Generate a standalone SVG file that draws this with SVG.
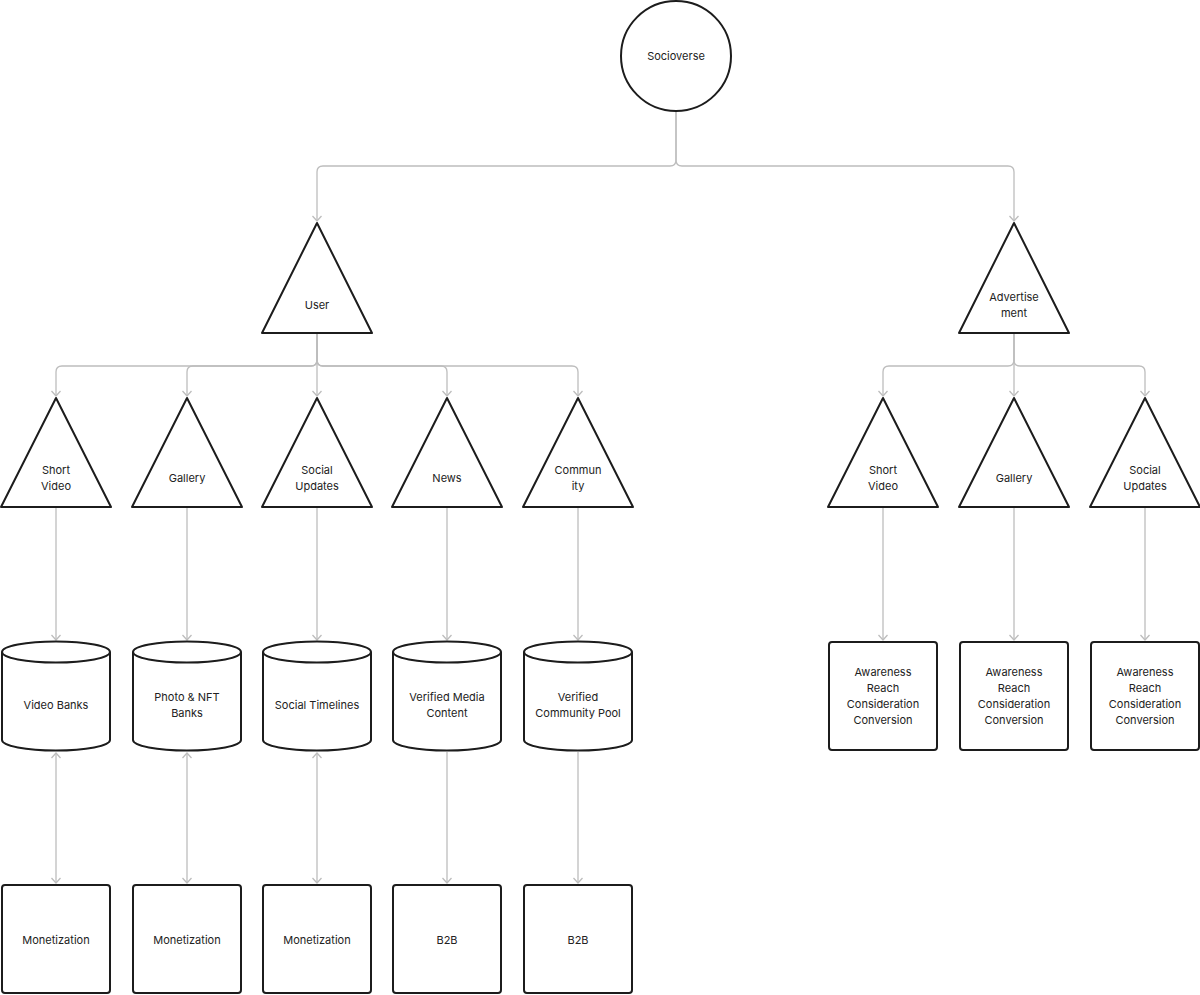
<svg xmlns="http://www.w3.org/2000/svg" width="1200" height="995" viewBox="0 0 1200 995">
<style>
.n{fill:#fff;stroke:#1c1c1c;stroke-width:2;stroke-linejoin:round}
.t{font-family:Inter,"Liberation Sans",sans-serif;font-size:11px;fill:#222;text-anchor:middle}
.c{fill:none;stroke:#bdbdbd;stroke-width:1.3}
</style>
<defs>
<marker id="ah" markerUnits="userSpaceOnUse" markerWidth="12" markerHeight="12" refX="6" refY="6" orient="auto">
<path d="M1,1.5 L6,6 L1,10.5" fill="none" stroke="#bdbdbd" stroke-width="1.3"/>
</marker>
<marker id="as" markerUnits="userSpaceOnUse" markerWidth="12" markerHeight="12" refX="6" refY="6" orient="auto-start-reverse">
<path d="M1,1.5 L6,6 L1,10.5" fill="none" stroke="#bdbdbd" stroke-width="1.3"/>
</marker>
</defs>
<g id="connectors">
<path class="c" d="M676,111 V160 Q676,166 670,166 H323 Q317,166 317,172 V221" marker-end="url(#ah)"/>
<path class="c" d="M676,111 V160 Q676,166 682,166 H1008 Q1014,166 1014,172 V221" marker-end="url(#ah)"/>
<path class="c" d="M317,334 V360 Q317,366 311,366 H62 Q56,366 56,372 V396" marker-end="url(#ah)"/>
<path class="c" d="M317,334 V360 Q317,366 311,366 H193 Q187,366 187,372 V396" marker-end="url(#ah)"/>
<path class="c" d="M317,334 V396" marker-end="url(#ah)"/>
<path class="c" d="M317,334 V360 Q317,366 323,366 H441 Q447,366 447,372 V396" marker-end="url(#ah)"/>
<path class="c" d="M317,334 V360 Q317,366 323,366 H572 Q578,366 578,372 V396" marker-end="url(#ah)"/>
<path class="c" d="M1014,334 V360 Q1014,366 1008,366 H889 Q883,366 883,372 V396" marker-end="url(#ah)"/>
<path class="c" d="M1014,334 V396" marker-end="url(#ah)"/>
<path class="c" d="M1014,334 V360 Q1014,366 1020,366 H1139 Q1145,366 1145,372 V396" marker-end="url(#ah)"/>
<path class="c" d="M56,508 V640" marker-end="url(#ah)"/>
<path class="c" d="M187,508 V640" marker-end="url(#ah)"/>
<path class="c" d="M317,508 V640" marker-end="url(#ah)"/>
<path class="c" d="M447,508 V640" marker-end="url(#ah)"/>
<path class="c" d="M578,508 V640" marker-end="url(#ah)"/>
<path class="c" d="M883,508 V640" marker-end="url(#ah)"/>
<path class="c" d="M1014,508 V640" marker-end="url(#ah)"/>
<path class="c" d="M1145,508 V640" marker-end="url(#ah)"/>
<path class="c" d="M56,753 V883" marker-start="url(#as)" marker-end="url(#ah)"/>
<path class="c" d="M187,753 V883" marker-start="url(#as)" marker-end="url(#ah)"/>
<path class="c" d="M317,753 V883" marker-start="url(#as)" marker-end="url(#ah)"/>
<path class="c" d="M447,752 V883" marker-end="url(#ah)"/>
<path class="c" d="M578,752 V883" marker-end="url(#ah)"/>
</g>
<g id="socioverse"><circle class="n" cx="676" cy="56" r="55"/><text class="t" x="676" y="60">Socioverse</text></g>
<g id="user"><path class="n" d="M317,223 L372,333 L262,333 Z"/><text class="t" x="317" y="309">User</text></g>
<g id="advertisement"><path class="n" d="M1014,223 L1069,333 L959,333 Z"/><text class="t" x="1014" y="301">Advertise</text><text class="t" x="1014" y="317">ment</text></g>
<g id="u-short-video"><path class="n" d="M56,398 L111,507 L1,507 Z"/><text class="t" x="56" y="474">Short</text><text class="t" x="56" y="490">Video</text></g>
<g id="u-gallery"><path class="n" d="M187,398 L242,507 L132,507 Z"/><text class="t" x="187" y="482">Gallery</text></g>
<g id="u-social-updates"><path class="n" d="M317,398 L372,507 L262,507 Z"/><text class="t" x="317" y="474">Social</text><text class="t" x="317" y="490">Updates</text></g>
<g id="u-news"><path class="n" d="M447,398 L502,507 L392,507 Z"/><text class="t" x="447" y="482">News</text></g>
<g id="u-community"><path class="n" d="M578,398 L633,507 L523,507 Z"/><text class="t" x="578" y="474">Commun</text><text class="t" x="578" y="490">ity</text></g>
<g id="a-short-video"><path class="n" d="M883,398 L938,507 L828,507 Z"/><text class="t" x="883" y="474">Short</text><text class="t" x="883" y="490">Video</text></g>
<g id="a-gallery"><path class="n" d="M1014,398 L1069,507 L959,507 Z"/><text class="t" x="1014" y="482">Gallery</text></g>
<g id="a-social-updates"><path class="n" d="M1145,398 L1200,507 L1090,507 Z"/><text class="t" x="1145" y="474">Social</text><text class="t" x="1145" y="490">Updates</text></g>
<g id="video-banks"><path class="n" d="M2,652 A54,10.5 0 0 1 110,652 V740 A54,10.5 0 0 1 2,740 Z"/><path class="n" fill="none" d="M2,652 A54,10.5 0 0 0 110,652"/><text class="t" x="56" y="709">Video Banks</text></g>
<g id="photo-nft-banks"><path class="n" d="M133,652 A54,10.5 0 0 1 241,652 V740 A54,10.5 0 0 1 133,740 Z"/><path class="n" fill="none" d="M133,652 A54,10.5 0 0 0 241,652"/><text class="t" x="187" y="701">Photo &amp; NFT</text><text class="t" x="187" y="717">Banks</text></g>
<g id="social-timelines"><path class="n" d="M263,652 A54,10.5 0 0 1 371,652 V740 A54,10.5 0 0 1 263,740 Z"/><path class="n" fill="none" d="M263,652 A54,10.5 0 0 0 371,652"/><text class="t" x="317" y="709">Social Timelines</text></g>
<g id="verified-media"><path class="n" d="M393,652 A54,10.5 0 0 1 501,652 V740 A54,10.5 0 0 1 393,740 Z"/><path class="n" fill="none" d="M393,652 A54,10.5 0 0 0 501,652"/><text class="t" x="447" y="701">Verified Media</text><text class="t" x="447" y="717">Content</text></g>
<g id="verified-community"><path class="n" d="M524,652 A54,10.5 0 0 1 632,652 V740 A54,10.5 0 0 1 524,740 Z"/><path class="n" fill="none" d="M524,652 A54,10.5 0 0 0 632,652"/><text class="t" x="578" y="701">Verified</text><text class="t" x="578" y="717">Community Pool</text></g>
<g id="monetization-1"><rect class="n" x="2" y="885" width="108" height="108" rx="3"/><text class="t" x="56" y="944">Monetization</text></g>
<g id="monetization-2"><rect class="n" x="133" y="885" width="108" height="108" rx="3"/><text class="t" x="187" y="944">Monetization</text></g>
<g id="monetization-3"><rect class="n" x="263" y="885" width="108" height="108" rx="3"/><text class="t" x="317" y="944">Monetization</text></g>
<g id="b2b-1"><rect class="n" x="393" y="885" width="108" height="108" rx="3"/><text class="t" x="447" y="944">B2B</text></g>
<g id="b2b-2"><rect class="n" x="524" y="885" width="108" height="108" rx="3"/><text class="t" x="578" y="944">B2B</text></g>
<g id="funnel-1"><rect class="n" x="829" y="642" width="108" height="108" rx="3"/><text class="t" x="883" y="676">Awareness</text><text class="t" x="883" y="692">Reach</text><text class="t" x="883" y="708">Consideration</text><text class="t" x="883" y="724">Conversion</text></g>
<g id="funnel-2"><rect class="n" x="960" y="642" width="108" height="108" rx="3"/><text class="t" x="1014" y="676">Awareness</text><text class="t" x="1014" y="692">Reach</text><text class="t" x="1014" y="708">Consideration</text><text class="t" x="1014" y="724">Conversion</text></g>
<g id="funnel-3"><rect class="n" x="1091" y="642" width="108" height="108" rx="3"/><text class="t" x="1145" y="676">Awareness</text><text class="t" x="1145" y="692">Reach</text><text class="t" x="1145" y="708">Consideration</text><text class="t" x="1145" y="724">Conversion</text></g>
</svg>
